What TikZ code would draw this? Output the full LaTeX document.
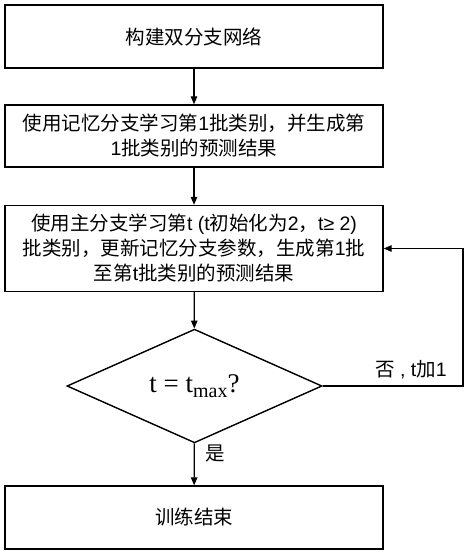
\documentclass[tikz,border=0pt]{standalone}
\usepackage{fontspec}
\setmainfont{Noto Sans CJK SC}
\newfontfamily\lat{Liberation Sans}
\newfontfamily\serif{Liberation Serif}
\newcommand{\la}[1]{{\lat #1}}
\usetikzlibrary{shapes.geometric,arrows.meta}
\begin{document}
\begin{tikzpicture}[x=1pt,y=-1pt,
  every node/.style={font=\fontsize{19.5}{25}\selectfont},
  stepbox/.style={draw,line width=1.4pt,minimum width=378pt,inner sep=0pt,align=center},
  decision/.style={draw,diamond,line width=1.4pt,minimum width=255pt,minimum height=80pt,inner sep=0pt},
  arrow/.style={line width=1.2pt,-{Triangle[length=8pt,width=6.5pt]}},
  lbl/.style={inner sep=0pt}]
\useasboundingbox (0,0) rectangle (474,554);
\fill[white] (0,0) rectangle (474,554);
\node[stepbox,minimum height=63pt] (b1) at (194,36.5) {构建双分支网络};
\node[stepbox,minimum height=62pt] (b2) at (194,136) {使用记忆分支学习第\la{1}批类别，并生成第\\\la{1}批类别的预测结果};
\node[stepbox,minimum height=86pt] (b3) at (194,248.5) {使用主分支学习第\la{t (t}初始化为\la{2}，\la{t≥ 2)}\\批类别，更新记忆分支参数，生成第\la{1}批\\至第\la{t}批类别的预测结果};
\node[decision] (d) at (194.5,386) {\serif\fontsize{27}{27}\selectfont t = t\raisebox{-5.5pt}{\fontsize{20}{20}\selectfont max}?};
\node[stepbox,minimum height=63pt] (b4) at (194,517.5) {训练结束};
\coordinate (fb) at (463,386);
\draw[arrow] (b1) -- (b2);
\draw[arrow] (b2) -- (b3);
\draw[arrow] (b3) -- (d);
\draw[arrow] (d) -- (b4);
\draw[arrow] (d.east) -- (fb) |- (b3.east);
\node[lbl] (no) at (411,370) {否\la{ , t}加\la{1}};
\node[lbl] (yes) at (215,453) {是};
\end{tikzpicture}
\end{document}
